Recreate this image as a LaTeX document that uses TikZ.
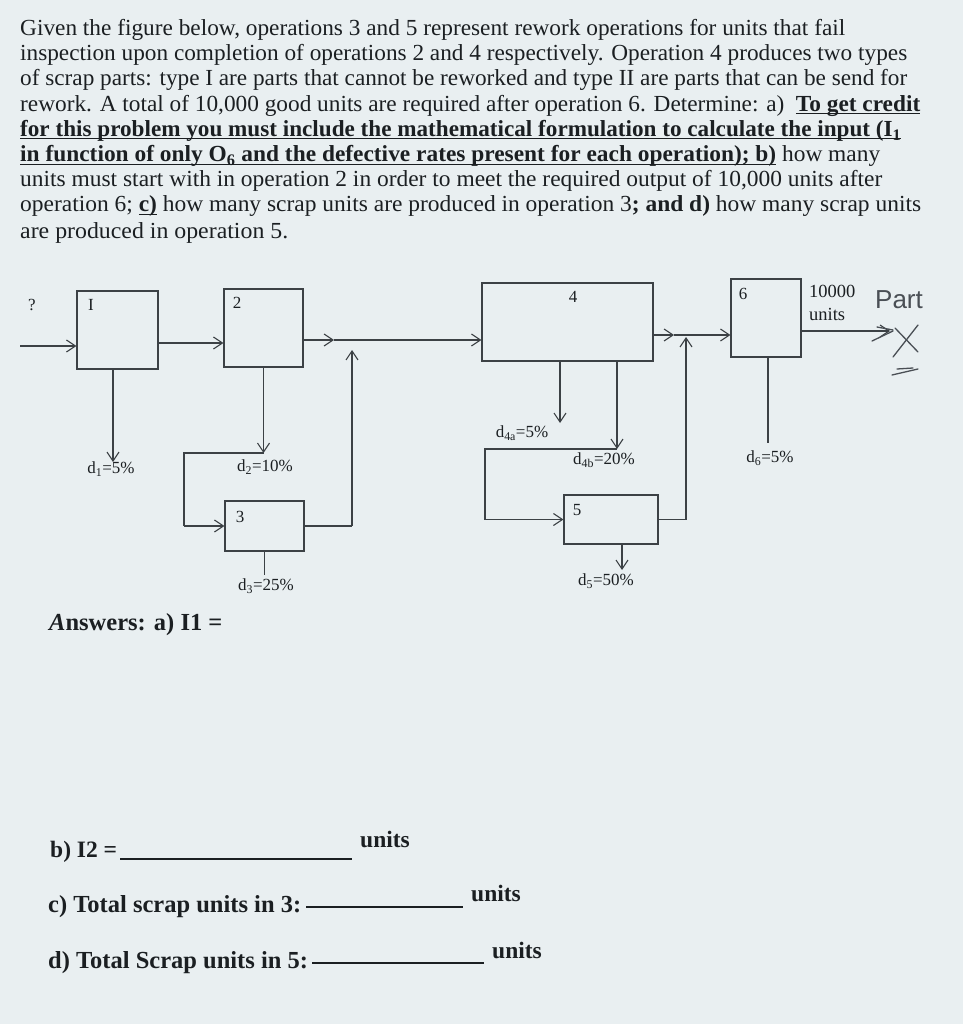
\documentclass[tikz,border=0pt]{standalone}
\usepackage{fontspec}
\setmainfont{Liberation Serif}
\setsansfont{Liberation Sans}
\usetikzlibrary{arrows.meta}
\definecolor{linec}{HTML}{3C4145}
\definecolor{txt}{HTML}{1B1F22}
\definecolor{bg}{HTML}{E9EFF1}
\definecolor{hand}{HTML}{4A4F55}
\newcommand\fitw[2]{\resizebox{#1pt}{\height}{#2}}
\newcommand\ulb[1]{\setbox0\hbox{#1}\rlap{\rule[-3.2pt]{\wd0}{1.1pt}}\box0}
\begin{document}
\begin{tikzpicture}[x=1pt,y=-1pt,
  ln/.style={draw=linec, line width=1.1pt},
  arr/.style={ln, -{Straight Barb[length=9pt,width=12pt,line width=1.1pt]}},
  box/.style={draw=linec, line width=1.2pt, rectangle, inner sep=0pt},
  num/.style={font=\fontsize{17}{17}\selectfont, text=txt, inner sep=0pt},
  dl/.style={font=\fontsize{17}{17}\selectfont, text=txt, inner sep=0pt},
  para/.style={font=\fontsize{23}{25}\selectfont, text=txt, anchor=base west, inner sep=0pt},
  ans/.style={font=\fontsize{23.5}{26}\selectfont\bfseries, text=txt, anchor=base west, inner sep=0pt},
  hw/.style={draw=hand, line width=1.3pt, line cap=round},
]
\fill[bg] (0,0) rectangle (963,1024);
\useasboundingbox (0,0) rectangle (963,1024);

% ---------- paragraph ----------
\node[para] (t1) at (20,35.5) {\fitw{825}{Given the figure below, operations 3 and 5 represent rework operations for units that fail}};
\node[para] (t2) at (20,60.7) {\fitw{887}{inspection upon completion of operations 2 and 4 respectively. Operation 4 produces two types}};
\node[para] (t3) at (20,85.9) {\fitw{887}{of scrap parts: type I are parts that cannot be reworked and type II are parts that can be send for}};
\node[para] (t4) at (20,111.1) {\fitw{900}{rework. A total of 10,000 good units are required after operation 6. Determine: a)\ \ \textbf{\ulb{To get credit}}}};
\node[para] (t5) at (20,136.3) {\fitw{881}{\textbf{\ulb{for this problem you must include the mathematical formulation to calculate the input (I\textsubscript{1}}}}};
\node[para] (t6) at (20,161.5) {\fitw{860}{\textbf{\ulb{in function of only O\textsubscript{6} and the defective rates present for each operation); b)}} how many}};
\node[para] (t7) at (20,186.7) {\fitw{862}{units must start with in operation 2 in order to meet the required output of 10,000 units after}};
\node[para] (t8) at (20,211.9) {\fitw{901}{operation 6; \textbf{\ulb{c)}} how many scrap units are produced in operation 3\textbf{; and d)} how many scrap units}};
\node[para] (t9) at (20,238) {\fitw{268}{are produced in operation 5.}};

% ---------- boxes ----------
\node[box, minimum width=81pt, minimum height=78pt] (b1) at (117.5,330) {};
\node[box, minimum width=79pt, minimum height=78pt] (b2) at (263.5,328) {};
\node[box, minimum width=79pt, minimum height=50pt] (b3) at (264.5,526) {};
\node[box, minimum width=171pt, minimum height=78pt] (b4) at (567.5,322) {};
\node[box, minimum width=94pt, minimum height=49pt] (b5) at (611,519.5) {};
\node[box, minimum width=70pt, minimum height=78pt] (b6) at (766,318) {};

\node[num] (n1) at (91,305) {I};
\node[num] (n2) at (237,303) {2};
\node[num] (n3) at (240,517) {3};
\node[num] (n4) at (573,297) {4};
\node[num] (n5) at (577,510) {5};
\node[num] (n6) at (743,294) {6};

\node[num] (q) at (32,305) {?};
\node[num, font=\fontsize{18.5}{18.5}\selectfont, anchor=west] (u1) at (809,291) {10000};
\node[num, font=\fontsize{18.5}{18.5}\selectfont, anchor=west] (u2) at (809,314) {units};

% ---------- coordinates ----------
\coordinate (in0) at (20,346);
\coordinate (m1) at (334,340);
\coordinate (j1) at (352,340);
\coordinate (m2) at (674,335);
\coordinate (j2) at (686,335);
\coordinate (out) at (890,331);
\coordinate (d1t) at (113,462);
\coordinate (k2) at (263.5,453);
\coordinate (k2l) at (184,453);
\coordinate (k3l) at (184,526);
\coordinate (r3) at (352,526);
\coordinate (s3) at (264.5,575);
\coordinate (t4a) at (560,423);
\coordinate (t4b) at (617,449);
\coordinate (k4l) at (485,449);
\coordinate (k5l) at (485,519.5);
\coordinate (r5) at (686,519.5);
\coordinate (t5) at (622,570);
\coordinate (s6) at (768,443);

% ---------- main flow ----------
\draw[arr] (in0) -- ([yshift=-16pt]b1.west);
\draw[arr] ([yshift=-13pt]b1.east) -- ([yshift=-15pt]b2.west);
\draw[arr] ([yshift=-12pt]b2.east) -- (m1);
\draw[arr] (m1) -- ([yshift=-18pt]b4.west);
\draw[arr] ([yshift=-13pt]b4.east) -- (m2);
\draw[arr] (m2) -- ([yshift=-17pt]b6.west);
\draw[arr] ([yshift=-13pt]b6.east) -- (out);

% ---------- defects / rework ----------
\draw[arr] ([xshift=-4.5pt]b1.south) -- (d1t);
\draw[arr] (b2.south) -- (k2);
\draw[ln] (k2) -- (k2l) -- (k3l);
\draw[arr] (k3l) -- (b3.west);
\draw[ln] (b3.east) -- (r3);
\draw[arr, shorten >=10pt] (r3) -- (j1);
\draw[ln] (b3.south) -- (s3);

\draw[arr] ([xshift=-7.5pt]b4.south) -- (t4a);
\draw[arr] ([xshift=49.5pt]b4.south) -- (t4b);
\draw[ln] (t4b) -- (k4l) -- (k5l);
\draw[arr] (k5l) -- (b5.west);
\draw[ln] (b5.east) -- (r5);
\draw[arr, shorten >=2pt] (r5) -- (j2);
\draw[arr] ([xshift=11pt]b5.south) -- (t5);
\draw[ln] ([xshift=2pt]b6.south) -- (s6);

% ---------- defect labels ----------
\node[dl] (dl1) at (111,469) {d\textsubscript{1}=5\%};
\node[dl] (dl2) at (265,467) {d\textsubscript{2}=10\%};
\node[dl] (dl3) at (266,586) {d\textsubscript{3}=25\%};
\node[dl] (dl4a) at (522,433) {d\textsubscript{4a}=5\%};
\node[dl] (dl4b) at (604,460) {d\textsubscript{4b}=20\%};
\node[dl] (dl5) at (606,581) {d\textsubscript{5}=50\%};
\node[dl] (dl6) at (770,458) {d\textsubscript{6}=5\%};

% ---------- handwriting ----------
\node[font=\sffamily\fontsize{26}{26}\selectfont, text=hand, inner sep=0pt] (part) at (899,300) {Part};
\draw[hw] (877,327) -- (893,330);
\draw[hw] (872,341) -- (893,331);
\draw[hw] (895,328) -- (918,352);
\draw[hw] (918,325) -- (893,357);
\draw[hw] (892,375) -- (918,369);
\draw[hw] (897,369) -- (913,368);

% ---------- answers ----------
\node[ans, font=\fontsize{24.5}{26}\selectfont\bfseries] (a1) at (49,630) {\textit{A}nswers: a) I1 =};
\node[ans] (a2) at (50,857) {b) I2 =};
\coordinate (ub1) at (120,859);
\coordinate (ub2) at (352,859);
\draw[draw=txt, line width=1.2pt] (ub1) -- (ub2);
\node[ans] (a2u) at (360,847) {units};
\node[ans, font=\fontsize{24.5}{26}\selectfont\bfseries] (a3) at (48,912) {c) Total scrap units in 3:};
\coordinate (uc1) at (306,907);
\coordinate (uc2) at (463,907);
\draw[draw=txt, line width=1.2pt] (uc1) -- (uc2);
\node[ans] (a3u) at (471,901) {units};
\node[ans, font=\fontsize{24.5}{26}\selectfont\bfseries] (a4) at (48,968) {d) Total Scrap units in 5:};
\coordinate (ud1) at (312,963);
\coordinate (ud2) at (484,963);
\draw[draw=txt, line width=1.2pt] (ud1) -- (ud2);
\node[ans] (a4u) at (492,958) {units};
\end{tikzpicture}
\end{document}
